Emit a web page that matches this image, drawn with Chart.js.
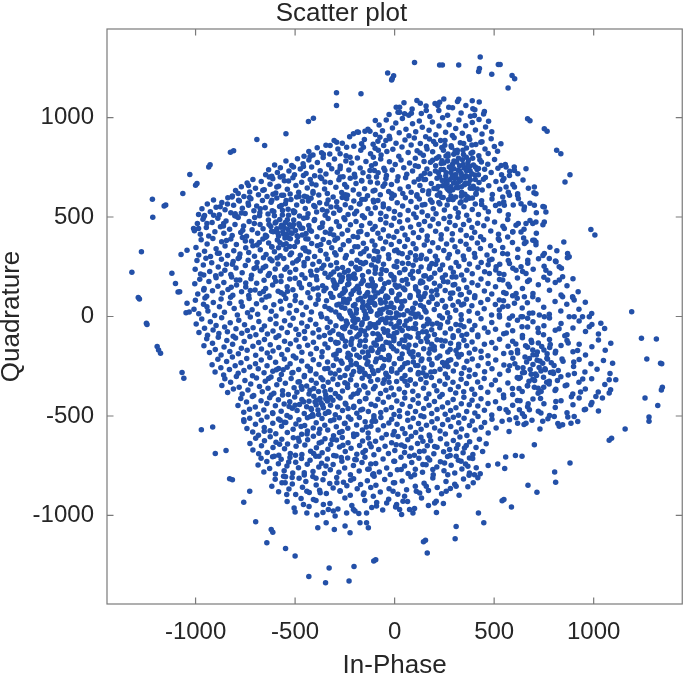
<!DOCTYPE html>
<html>
<head>
<meta charset="utf-8">
<title>Scatter plot</title>
<script src="https://cdn.jsdelivr.net/npm/chart.js@4.4.1/dist/chart.umd.min.js"></script>
<style>
  html, body { margin: 0; padding: 0; background: #fff; }
  #wrap { width: 685px; height: 676px; }
</style>
</head>
<body>
<div id="wrap"><canvas id="scatter-chart"></canvas></div>
<script>
// axis ticks
const xTicks = [-1000, -500, 0, 500, 1000];
const yTicks = [-1000, -500, 0, 500, 1000];

// sparse points on the rim of the cloud
const outerPoints = [
  [-35,1224],[-15,1189],[-292,1124],[-292,1060],[-169,1119],[-433,980],[-408,997],[-97,985],[-546,918],[-692,890],
  [-653,860],[-825,826],[-809,833],[-934,751],[-927,763],[-1029,714],[-993,668],[-1000,660],[-1064,618],[-1217,589],
  [-1158,555],[-1150,560],[-1215,499],[-1272,325],[-1320,222],[-1288,96],[-1282,88],[-1119,218],[-1088,123],[-1080,125],
  [-1048,19],[-1032,22],[-1073,312],[-1043,333],[-959,208],[-959,133],[-1043,66],[-943,49],[-1101,166],
  [-1247,-34],[-1244,-40],[-1193,-151],[-1176,-185],[-1186,-168],[-1068,-282],[-1059,-310],[-971,-569],[-914,-555],[-901,-689],
  [-847,-673],[-829,-815],[-815,-820],[-758,-519],[-728,-878],[-758,-933],[-698,-1032],[-620,-1070],[-612,-1084],[-642,-1137],
  [-548,-1166],[-500,-1204],[-431,-1307],[-347,-1338],[-329,-1264],[-229,-1329],[-204,-1256],[-105,-1229],[-95,-1222],
  [430,1304],[100,1276],[226,1264],[240,1264],[322,1264],[426,1246],[422,1232],[521,1266],[530,1266],[488,1217],
  [590,1211],[603,1195],[570,1149],[-12,1196],[-5,1210],[668,994],[680,984],[752,944],[766,931],[814,835],
  [835,818],[881,713],[856,676],[986,437],[1006,409],[1191,24],
  [1240,-109],[1315,-113],[1267,-213],[1336,-235],[1342,-238],[1258,-410],[1345,-355],[1340,-370],[1322,-447],[1278,-505],
  [1278,-527],[1158,-566],[1078,-622],[1090,-612],[881,-736],[804,-781],[809,-833],[670,-848],[715,-883],[702,-644],
  [549,-920],[540,-926],[587,-957],[421,-987],[448,-1037],[309,-1055],[304,-1117],[155,-1125],[145,-1132],[164,-1189],
  [607,-698],[640,-703],[558,-706],[518,-741],[553,-764],[470,-749]
];

// points traced one by one along the edges of the lobes
const tracedPoints = [
  [25,1052],[17,1027],[50,1019],[84,1022],[129,1072],[159,1035],[217,1060],[226,1077],[272,1052],[322,1092],
  [390,1084],[393,1044],[451,1030],[401,1010],
  [660,743],[602,734],[560,751],[535,759],[577,709],[543,684],[602,651],[560,651],[618,617],[577,609],
  [543,601],[526,567],[551,559],[635,567],[652,550],[702,651],[710,617],[702,559],[752,550],[760,525],
  [752,475],[660,467],[694,467],[710,475],[610,459],[635,425],[593,425],[551,442],[568,400],[526,383],
  [702,383],[660,375],
  [752,317],[777,291],[811,275],[827,250],[869,317],[877,300],[844,200],[827,183],[844,99],[894,99],
  [902,83],[944,-1],[902,-1],[978,-1],[760,233],[769,183],[694,383],[710,375],[652,367],[669,283],
  [660,216],[677,183],[652,99],[694,99],[610,116],[602,66],[543,49],[677,16],[643,-1],[560,116],
  [526,83],[543,183],[577,150],[526,216],[476,216],[510,250],[476,283],[543,317],[577,266],[610,233],[635,250],
  [526,8],[577,-9],[635,-1],[668,-9],[727,8],[752,-1],[877,-1],[978,-51],[1036,-34],[1086,-134],
  [1095,-235],[1111,-318],[1078,-318],[1078,-385],[1044,-410],[1011,-402],[986,-444],[953,-469],[902,-502],[886,-536],
  [844,-544],[827,-552],[802,-502],[744,-527],[735,-485],[677,-469],[652,-502],[660,-536],[627,-469],[618,-536],
  [577,-519],[560,-469],
  [-207,918],[-182,926],[-149,931],[-124,931],[-74,901],[-44,885],[-166,868],[-157,851],[-241,851],[-324,860],
  [-291,876],[-425,804],[-358,815],[-274,818],[-224,801],[-107,801],[-82,835],[-49,734],[-458,754],[-508,751],
  [-575,701],[-630,701],[-533,681],[-458,709],[-416,667],[-374,701],[-350,676],[-274,743],[-274,701],[-241,651],
  [-199,701],[-166,684],[-124,734],[-91,701],[-49,667],[-734,659],[-662,634],[-592,651],[-558,609],[-817,601],
  [-784,584],[-876,551],[-959,500],[-909,509],[-1010,442],[-985,442],[-943,467],[-859,467],[-801,517],[-734,559],
  [-675,542],[-617,584],[-492,601],[-441,601],[-400,551],[-341,567],[-291,551],[-241,592],[-174,567],[-107,584],
  [-57,551],[-15,617],
  [-500,-982],[-441,-987],[-391,-998],[-386,-1062],[-344,-1037],[-333,-970],[-308,-978],[-303,-1070],[-299,-1003],[-249,-1053],
  [-224,-1087],[-207,-970],[-174,-1037],[-141,-1037],[-132,-1062],[-141,-987],[-241,-987],[-199,-978],[-358,-945],[-408,-920],
  [-458,-945],[-441,-878],[-374,-886],[-274,-878],[-157,-895],[-107,-903],[-91,-953],[-40,-937],[10,-945],[-558,-803],
  [-550,-836],[-542,-895],
  [-8,-594],[8,-644],[0,-728],[33,-769],[75,-703],[100,-795],[142,-744],[167,-711],[201,-653],[192,-769],
  [251,-736],[276,-669],[267,-795],[309,-703],[334,-728],[376,-711],[368,-753],[376,-786],[401,-795],[418,-811],
  [309,-853],[259,-878],[159,-853],[109,-878],[50,-903],[42,-928],[25,-970],[75,-970],[92,-987],[201,-937],
  [209,-928],[0,-836],[-8,-878],[8,-953],[351,-661],[318,-644],[142,-627],[176,-602],[84,-602],[50,-653],[125,-678]
];

// upper left lobe
const upperLeftPoints = [
  [-1008,37],[-1001,82],[-984,14],[-960,61],[-953,93],[-938,28],[-911,70],[-904,5],[-880,49],[-872,88],
  [-855,21],[-829,66],[-824,97],[-806,40],[-790,8],[-771,73],[-765,52],[-739,19],[-731,91],[-716,34],
  [-694,64],[-688,11],[-667,83],[-650,45],[-646,98],[-619,26],[-607,59],[-596,3],[-574,77],[-568,38],
  [-547,90],[-530,17],[-526,55],[-500,81],[-493,30],[-470,69],[-462,9],[-444,47],[-425,94],[-418,23],
  [-396,62],[-384,86],[-371,12],[-350,50],[-342,79],[-319,33],[-310,97],[-290,58],[-279,6],[-258,71],
  [-250,42],[-228,88],[-221,16],[-199,60],[-192,35],[-171,92],[-160,51],[-146,7],[-128,76],[-121,27],
  [-102,65],[-296,22],[-266,47],[-238,69],[-213,4],[-183,84],[-153,29],[-137,55],[-111,90],
  [-1004,164],[-989,113],[-979,187],[-957,141],[-944,102],[-933,176],[-915,129],[-897,195],[-888,152],[-866,118],
  [-858,171],[-837,136],[-819,199],[-813,107],[-794,158],[-778,183],[-769,124],[-748,148],[-733,106],[-722,190],
  [-701,133],[-693,167],[-677,115],[-656,182],[-648,141],[-631,103],[-613,158],[-603,196],[-585,127],[-571,176],
  [-556,110],[-540,149],[-527,188],[-511,134],[-498,104],[-479,170],[-468,145],[-450,192],[-436,119],[-427,161],
  [-409,138],[-391,185],[-383,108],[-362,154],[-355,129],[-333,197],[-322,116],[-304,172],[-297,142],[-275,105],
  [-266,184],[-248,131],[-236,160],[-218,113],[-206,193],[-187,147],[-178,121],[-158,178],[-149,102],[-129,155],
  [-117,189],[-103,127],[-290,158],[-256,121],[-230,187],[-195,139],[-168,166],[-140,112],[-112,173],
  [-1002,238],[-993,281],[-975,214],[-961,259],[-948,293],[-929,226],[-919,270],[-899,205],[-886,249],[-870,288],
  [-853,232],[-845,263],[-823,211],[-811,276],[-797,244],[-780,298],[-766,220],[-750,256],[-736,283],[-719,207],
  [-706,241],[-691,272],[-675,229],[-659,295],[-648,253],[-629,216],[-616,280],[-600,239],[-586,264],[-570,203],
  [-557,291],[-542,247],[-526,222],[-512,269],[-497,236],[-484,286],[-466,210],[-455,255],[-437,292],[-422,228],
  [-411,262],[-394,201],[-379,276],[-366,243],[-350,218],[-337,289],[-321,257],[-306,224],[-292,270],[-276,208],
  [-262,246],[-248,294],[-233,231],[-219,265],[-203,213],[-189,283],[-175,240],[-161,206],[-146,271],[-131,225],
  [-116,259],[-104,290],
  [-998,347],[-984,309],[-972,386],[-955,328],[-942,365],[-925,301],[-913,392],[-897,340],[-881,318],[-869,376],
  [-852,354],[-839,307],[-823,389],[-808,331],[-795,362],[-777,314],[-765,397],[-748,345],[-733,322],[-719,378],
  [-704,303],[-691,359],[-675,335],[-662,390],[-646,312],[-633,370],[-617,349],[-604,326],[-589,384],[-575,305],
  [-560,361],[-546,338],[-532,395],[-518,319],[-503,352],[-489,377],[-474,308],[-460,343],[-446,391],[-431,324],
  [-417,367],[-402,301],[-388,355],[-373,332],[-359,387],[-345,313],[-330,372],[-316,346],[-301,320],[-287,393],
  [-272,337],[-258,360],[-243,306],[-229,381],[-214,327],[-200,351],[-186,398],[-171,316],[-157,368],[-142,341],
  [-128,304],[-113,379],[-101,330],
  [-1006,431],[-991,468],[-976,414],[-963,489],[-946,447],[-934,405],[-917,472],[-903,426],[-888,494],[-875,451],
  [-858,418],[-847,480],[-829,439],[-816,407],[-802,463],[-786,497],[-773,422],[-759,455],[-744,403],[-731,477],
  [-716,436],[-703,498],[-688,419],[-676,462],[-661,441],[-649,408],[-634,485],[-622,452],[-610,426],[-600,470],
  [-592,441],[-583,404],[-577,488],[-568,459],[-562,425],[-555,447],[-549,472],[-541,412],[-536,437],[-528,461],
  [-521,420],[-514,450],[-507,485],[-498,432],[-490,406],[-481,466],[-470,443],[-457,494],[-445,417],[-431,458],
  [-418,429],[-404,482],[-390,401],[-376,446],[-362,470],[-348,423],[-334,492],[-320,438],[-306,409],[-292,476],
  [-278,452],[-264,415],[-250,487],[-236,433],[-222,461],[-208,402],[-194,478],[-180,425],[-166,456],[-152,496],
  [-138,412],[-124,469],[-110,438],
  [-985,513],[-968,541],[-955,508],[-941,566],[-926,527],[-910,585],[-897,549],[-881,512],[-868,573],[-852,536],
  [-838,597],[-823,521],[-809,559],[-794,504],[-780,581],[-765,544],[-751,518],[-736,570],[-722,592],[-707,531],
  [-693,555],[-679,507],[-664,583],[-650,546],[-636,515],[-621,574],[-607,528],[-592,596],[-578,553],[-564,510],
  [-549,567],[-535,539],[-521,588],[-506,522],[-492,561],[-478,505],[-463,579],[-449,543],[-435,516],[-420,594],
  [-406,558],[-392,525],[-377,572],[-363,537],[-349,509],[-334,586],[-320,550],[-306,519],[-291,577],[-277,534],
  [-263,598],[-248,562],[-234,513],[-220,546],[-205,580],[-191,529],[-177,566],[-162,506],[-148,589],[-134,541],
  [-119,518],[-105,575],
  [-815,606],[-799,633],[-786,618],[-770,652],[-757,603],[-741,671],[-728,626],[-712,689],[-699,644],[-684,612],
  [-670,678],[-655,637],[-641,603],[-626,665],[-612,692],[-597,621],[-583,655],[-568,609],[-554,682],[-539,640],
  [-525,616],[-511,697],[-496,659],[-482,624],[-467,675],[-453,605],[-439,646],[-424,688],[-410,628],[-395,661],
  [-381,611],[-367,694],[-352,641],[-338,618],[-323,673],[-309,601],[-295,650],[-280,687],[-266,623],[-251,664],
  [-237,609],[-223,695],[-208,636],[-194,668],[-179,614],[-165,681],[-151,642],[-136,607],[-122,676],[-108,631],
  [-648,712],[-633,738],[-617,705],[-603,761],[-589,724],[-574,748],[-560,706],[-546,781],[-531,731],[-517,759],
  [-503,713],[-488,793],[-474,741],[-460,768],[-445,719],[-431,786],[-417,752],[-402,708],[-388,774],[-374,733],
  [-359,799],[-345,716],[-331,763],[-316,742],[-302,791],[-288,725],[-273,756],[-259,703],[-245,782],[-230,736],
  [-216,771],[-202,715],[-187,797],[-173,747],[-159,722],[-144,779],[-130,703],[-116,758],[-102,734],
  [-455,806],[-431,829],[-410,812],[-389,848],[-367,823],[-345,861],[-326,817],[-304,884],[-285,842],[-263,871],
  [-244,808],[-226,903],[-205,856],[-188,927],[-170,835],[-152,889],[-134,941],[-121,818],[-108,866]
];

// upper right lobe
const upperRightPoints = [
  [-28,1015],[8,1052],[25,1027],[47,1074],[71,1011],[88,1043],[112,1086],[134,1020],[158,1058],[177,1005],
  [203,1071],[222,1036],[247,1093],[266,1012],[291,1049],[316,1080],[334,1023],[358,1061],[381,1007],[403,1039],
  [425,1078],[447,1018],
  [-96,915],[-78,962],[-61,934],[-42,987],[-27,906],[-11,948],[6,972],[23,923],[39,995],[57,941],
  [72,909],[90,969],[106,928],[124,983],[139,951],[156,903],[173,936],[190,977],[207,914],[223,958],
  [241,999],[256,926],[274,964],[290,910],[307,945],[323,988],[340,921],[357,959],[373,904],[390,975],
  [406,937],[424,990],[439,917],[457,953],[472,981],[488,928],
  [-98,846],[-84,881],[-68,812],[-55,859],[-39,829],[-24,893],[-9,840],[7,871],[21,806],[37,852],
  [52,887],[68,824],[83,862],[99,897],[113,833],[129,870],[144,811],[160,855],[175,892],[191,828],
  [206,866],[222,803],[237,849],[253,884],[268,817],[284,858],[299,899],[315,836],[330,873],[346,814],
  [361,847],[377,889],[392,825],[408,864],[423,808],[439,878],[454,842],[470,819],[485,893],[501,855],
  [517,830],[534,868],
  [-97,768],[-83,722],[-70,791],[-54,745],[-41,709],[-26,778],[-12,736],[3,764],[17,702],[32,787],
  [46,748],[61,715],[75,772],[90,731],[104,796],[119,754],[133,706],[148,779],[162,741],[177,717],
  [191,785],[206,758],[220,723],[234,769],[246,739],[257,706],[266,782],[275,752],[283,724],[291,765],
  [298,742],[305,711],[312,776],[319,735],[326,758],[334,719],[341,788],[349,747],[358,707],[368,771],
  [379,733],[392,796],[406,751],[421,713],[436,777],[452,740],[468,765],[485,724],[502,789],[519,745],
  [537,712],[556,764],[578,730],[601,752],[619,718],
  [-99,634],[-86,671],[-72,612],[-58,655],[-44,693],[-30,628],[-16,664],[-2,609],[13,682],[27,641],
  [41,618],[55,697],[69,652],[83,625],[98,676],[112,604],[127,659],[141,633],[155,689],[170,616],
  [184,668],[198,643],[213,695],[227,621],[241,657],[255,683],[269,637],[283,606],[296,671],[310,648],
  [323,691],[337,624],[351,662],[365,602],[380,686],[394,645],[409,619],[424,674],[440,636],[456,698],
  [473,657],[491,613],[509,679],[528,640],[549,694],[571,624],[594,663],[618,608],[645,686],[672,645],[700,622],
  [-97,547],[-84,583],[-70,519],[-57,566],[-43,502],[-29,541],[-15,594],[-1,528],[13,572],[27,511],
  [40,556],[54,597],[68,533],[82,578],[96,515],[110,549],[124,591],[138,525],[152,563],[166,507],
  [180,586],[194,541],[208,517],[222,573],[236,599],[250,535],[264,561],[278,503],[292,588],[306,544],
  [320,521],[334,577],[348,552],[362,509],[376,594],[390,538],[405,566],[421,513],[437,582],[454,547],
  [471,526],[489,591],[507,558],[527,532],[548,575],[571,511],[596,560],[622,592],[650,537],[680,569],
  [712,521],[745,553],
  [-98,452],[-84,418],[-71,487],[-57,436],[-44,470],[-30,405],[-16,459],[-3,494],[11,427],[25,476],
  [38,443],[52,409],[66,485],[80,450],[94,421],[108,497],[122,462],[136,433],[150,478],[164,404],
  [178,455],[192,489],[206,428],[220,466],[234,411],[248,492],[262,440],[276,474],[290,416],[304,458],
  [318,499],[332,435],[346,463],[360,407],[374,484],[388,447],[402,423],[417,469],[432,401],[448,456],
  [465,490],[483,430],[502,475],[522,414],[544,453],[568,488],[594,426],[621,467],[650,438],[680,482],
  [712,419],[745,461],
  [-99,358],[-86,326],[-72,393],[-58,341],[-45,374],[-31,310],[-17,362],[-4,398],[10,334],[24,377],
  [38,315],[51,352],[65,387],[79,321],[93,366],[107,340],[121,397],[135,308],[149,359],[163,383],
  [177,328],[191,371],[205,303],[219,346],[233,389],[247,332],[261,364],[275,311],[289,385],[303,350],
  [317,325],[331,378],[345,304],[359,363],[373,338],[387,394],[401,317],[416,369],[431,342],[447,386],
  [464,309],[482,355],[501,330],[521,391],[543,347],[567,314],[592,372],[619,338],[648,395],[678,322],
  [710,361],[745,306],[780,348],[815,330],[850,375]
];

// centre, ring and right lobe
const centrePoints = [
  [-96,247],[-83,279],[-69,214],[-56,262],[-42,231],[-29,291],[-15,205],[-2,253],[12,276],[25,220],
  [39,268],[52,238],[66,297],[79,211],[93,257],[106,284],[120,226],[133,249],[147,203],[160,289],
  [174,241],[187,266],[201,217],[214,283],[228,235],[241,259],[255,208],[268,294],[282,244],[295,222],
  [309,271],[322,253],[336,209],[349,286],[363,232],[376,264],[390,215],[404,298],[419,247],[435,272],
  [452,225],[470,260],[489,288],[508,234],[528,263],[549,211],[571,281],[594,243],[618,296],[643,226],
  [669,268],[696,237],[723,290],[751,252],[779,218],[808,279],[838,243],[868,295],
  [-97,155],[-84,118],[-70,187],[-57,141],[-43,103],[-30,172],[-16,129],[-3,196],[11,147],[24,112],
  [38,181],[51,135],[65,163],[78,106],[92,192],[105,150],[119,124],[132,178],[146,101],[159,144],
  [173,188],[186,127],[200,167],[213,109],[227,153],[240,195],[254,131],[267,174],[281,117],[294,158],
  [308,199],[321,138],[335,111],[348,184],[362,146],[375,122],[389,170],[403,104],[418,157],[434,189],
  [451,128],[469,166],[488,113],[507,149],[527,186],[548,120],[570,162],[593,104],[617,193],[642,141],
  [668,176],[695,115],[722,159],[750,197],[778,132],[807,171],[836,108],[866,154],[896,190],[922,125],
  [-99,58],[-86,14],[-72,83],[-58,37],[-45,96],[-31,21],[-18,67],[-4,44],[10,89],[23,7],
  [37,52],[50,78],[64,29],[77,95],[91,41],[104,66],[118,12],[131,85],[145,48],[158,23],
  [172,72],[185,99],[199,35],[212,61],[226,4],[239,80],[253,46],[266,19],[280,91],[293,57],
  [307,31],[320,74],[334,9],[347,63],[361,87],[374,26],[388,54],[402,94],[417,16],[433,70],
  [450,39],[468,86],[487,8],[506,60],[526,33],[547,79],[569,51],[592,2],[616,92],[641,43],
  [667,69],[694,18],[721,84],[749,47],[777,11],[806,75],[835,28],[865,62],[895,95],[926,36],
  [958,71],[990,15],
  [-98,-41],[-85,-88],[-71,-17],[-57,-63],[-44,-32],[-30,-95],[-17,-9],[-3,-54],[11,-81],[24,-25],
  [38,-70],[51,-44],[65,-98],[78,-13],[92,-59],[105,-37],[119,-86],[132,-4],[146,-49],[159,-77],
  [173,-21],[186,-66],[200,-91],[213,-34],[227,-56],[240,-7],[254,-83],[267,-28],[281,-61],[294,-97],
  [308,-40],[321,-72],[335,-15],[348,-51],[362,-89],[375,-23],[389,-67],[403,-45],[418,-93],[434,-11],
  [451,-58],[469,-79],[488,-30],[507,-64],[527,-2],[548,-87],[570,-43],[593,-71],[617,-19],[642,-96],
  [668,-53],[695,-27],[722,-81],[750,-46],[778,-8],[807,-69],[836,-35],[866,-92],[896,-58],[927,-22],
  [959,-75],[991,-40],[1024,-88],[1055,-60],
  [-97,-143],[-84,-181],[-70,-112],[-57,-164],[-43,-129],[-30,-196],[-16,-151],[-3,-108],[11,-173],[24,-137],
  [38,-189],[51,-121],[65,-158],[78,-104],[92,-177],[105,-145],[119,-192],[132,-126],[146,-162],[159,-110],
  [173,-185],[186,-139],[200,-168],[213,-117],[227,-199],[240,-148],[254,-123],[267,-179],[281,-134],[294,-106],
  [308,-171],[321,-155],[335,-191],[348,-119],[362,-147],[375,-183],[389,-128],[403,-164],[418,-102],[434,-175],
  [451,-140],[469,-197],[488,-131],[507,-160],[527,-114],[548,-186],[570,-149],[593,-125],[617,-170],[642,-107],
  [668,-155],[695,-192],[722,-133],[750,-168],[778,-115],[807,-183],[836,-146],[866,-121],[896,-177],[927,-139],
  [959,-194],[991,-152],[1024,-118],[1058,-170],
  [-96,-228],[-83,-271],[-69,-206],[-56,-249],[-42,-293],[-29,-217],[-15,-262],[-2,-238],[12,-284],[25,-211],
  [39,-255],[52,-297],[66,-233],[79,-268],[93,-204],[106,-246],[120,-281],[133,-222],[147,-259],[160,-295],
  [174,-215],[187,-242],[201,-276],[214,-209],[228,-265],[241,-231],[255,-289],[268,-252],[282,-218],[295,-274],
  [309,-240],[322,-203],[336,-286],[349,-257],[363,-225],[376,-269],[390,-213],[404,-292],[419,-247],[435,-207],
  [452,-278],[470,-236],[489,-263],[508,-219],[528,-290],[549,-244],[571,-272],[594,-210],[618,-258],[643,-283],
  [663,-229],[681,-266],[695,-241],[707,-289],[716,-220],[726,-256],[735,-274],[744,-235],[755,-262],[768,-214],
  [783,-281],[801,-246],[822,-271],[846,-225],[872,-294],[899,-251],[927,-216],[956,-279],[986,-238],[1017,-265],
  [1049,-221],[1082,-287],
  [-98,-352],[-85,-318],[-71,-387],[-58,-336],[-44,-371],[-31,-304],[-17,-359],[-4,-393],[10,-327],[23,-364],
  [37,-311],[50,-382],[64,-345],[77,-321],[91,-376],[104,-339],[118,-398],[131,-315],[145,-361],[158,-333],
  [172,-389],[185,-307],[199,-348],[212,-373],[226,-324],[239,-392],[253,-341],[266,-308],[280,-367],[293,-330],
  [307,-385],[320,-353],[334,-316],[347,-378],[361,-337],[374,-302],[388,-366],[402,-391],[417,-329],[433,-357],
  [450,-312],[468,-381],[487,-343],[506,-320],[526,-369],[547,-395],[569,-334],[592,-362],[616,-306],[641,-377],
  [667,-348],[694,-315],[721,-386],[749,-355],[777,-325],[806,-372],[835,-303],[865,-344],[895,-389],[926,-331],
  [958,-365],[990,-313],[1023,-380],[1056,-342],[1085,-368],
  [-97,-448],[-84,-416],[-70,-483],[-57,-431],[-43,-469],[-30,-404],[-16,-457],[-3,-492],[11,-425],[24,-474],
  [38,-441],[51,-409],[65,-486],[78,-452],[92,-419],[105,-478],[119,-436],[132,-499],[146,-463],[159,-412],
  [173,-446],[186,-488],[200,-427],[213,-468],[227,-403],[240,-455],[254,-491],[267,-433],[281,-472],[294,-417],
  [308,-459],[321,-496],[335,-438],[348,-406],[362,-477],[375,-444],[389,-421],[403,-485],[418,-450],[434,-413],
  [451,-471],[469,-437],[488,-495],[507,-428],[527,-462],[548,-408],[570,-481],[593,-446],[617,-422],[642,-489],
  [668,-453],[695,-415],[722,-476],[750,-439],[778,-497],[807,-458],[836,-424],[866,-484],[896,-443],[927,-410],
  [959,-466],[991,-432],[1024,-475],
  [-96,-527],[-83,-571],[-69,-508],[-56,-549],[-42,-593],[-29,-535],[-15,-516],[-2,-578],[12,-541],[25,-503],
  [39,-564],[52,-588],[66,-522],[79,-556],[93,-511],[106,-583],[120,-538],[133,-567],[147,-504],[160,-546],
  [174,-596],[187,-529],[201,-561],[214,-514],[228,-575],[241,-543],[255,-590],[268,-519],[282,-553],[295,-507],
  [309,-580],[322,-534],[336,-566],[349,-512],[363,-598],[376,-548],[390,-525],[404,-570],[419,-502],[435,-557],
  [452,-533],[470,-586],[489,-517],[510,-560],[540,-526],[575,-578],[610,-509],[650,-543],[690,-521],[730,-566],
  [770,-514],[820,-538],[870,-505],[920,-528]
];

// extra density in the core round the origin, and the ring about it
const centreCorePoints = [
  [-288,241],[-271,176],[-256,88],[-243,-23],[-231,203],[-219,-141],[-207,54],[-194,-236],[-182,141],[-170,-68],
  [-158,265],[-146,12],[-134,-179],[-122,97],[-110,-42],[-98,218],[-86,-117],[-74,33],[-62,-259],[-50,164],
  [-38,-7],[-26,-204],[-14,121],[-2,-86],[10,249],[22,-31],[34,74],[46,-152],[58,186],[70,-60],
  [82,17],[94,-229],[106,138],[118,-104],[130,56],[142,-283],[154,205],[166,-14],[178,-163],[190,90],
  [-294,-188],[-280,62],[-266,-97],[-252,139],[-239,-262],[-225,28],[-212,-51],[-198,191],[-185,-15],[-172,-124],
  [-160,73],[-147,-207],[-135,157],[-123,-36],[-111,-271],[-99,101],[-87,6],[-75,-165],[-63,236],[-51,-79],
  [-39,47],[-27,-133],[-15,-275],[-3,183],[9,-48],[21,108],[33,-211],[45,9],[57,-98],[69,267],
  [81,-189],[93,40],[105,-3],[117,-246],[129,169],[141,-77],[153,115],[165,-127],[177,254],[189,-39],
  [-276,-2],[-247,-125],[-218,112],[-190,-195],[-162,44],[-133,-58],[-104,144],[-76,-98],[-47,71],[-19,-37],
  [9,18],[38,-118],[-261,-55],[-233,163],[-204,-8],[-176,-88],[-148,-152],[-119,28],[-91,-213],[-62,-12],
  [-34,96],[-6,-162],[23,153],[51,-237],
  [-150,-10],[-120,70],[-95,-55],[-70,15],[-45,-25],[-20,50],[5,-5],[30,40],[-135,120],[-60,-150],
  [-10,-100],[-200,-30],
  [-284,-132],[-262,197],[-245,-47],[-223,-195],[-208,129],[-193,18],[-177,-258],[-159,182],[-144,-94],[-128,43],
  [-113,-171],[-97,236],[-82,-32],[-66,127],[-51,-216],[-35,-71],[-19,211],[-4,-122],[12,81],[28,-266],
  [43,143],[59,-23],[74,-178],[90,228],[105,-62],[121,104],[137,-213],[152,31],[168,-98],[183,196],
  [199,-152],[214,62],[230,-41],[246,176],[261,-233],[277,-5],[292,118],[-270,-224],[-239,83],[-214,-112],
  [-186,236],[-163,-31],[-139,-240],[-116,157],[-92,-143],[-69,68],[-44,-285],[-21,19],[3,158],[26,-58],
  [49,235],[72,-143],[95,14],[118,-289],[141,172],[164,-36],[187,-238],[210,133],[233,-119],[256,52],[279,-166],
  [-330,40],[-325,-82],[-304,152],[-283,-171],[-252,223],[-218,-243],[-171,271],[-128,-302],[-79,299],[-28,-331],
  [21,321],[79,-318],[131,291],[182,-279],[229,238],[271,-221],[302,161],[322,-139],[336,58],[331,-43],
  [-340,-10],[-316,98],[-296,-130],[-268,190],[-236,-205],[-195,248],[-150,-285],[-104,285],[-52,-318],[0,330],
  [52,-326],[105,305],[157,-300],[206,262],[251,-247],[289,199],[315,-190],[330,109],[338,-95]
];

// lower left lobe
const lowerLeftPoints = [
  [-997,-38],[-983,-81],[-969,-12],[-955,-59],[-940,-94],[-926,-27],[-912,-68],[-897,-45],[-883,-86],[-869,-6],
  [-854,-53],[-840,-77],[-826,-31],[-811,-99],[-797,-62],[-783,-19],[-768,-84],[-754,-41],[-740,-70],[-725,-3],
  [-711,-56],[-697,-92],[-682,-25],[-668,-66],[-654,-48],[-639,-88],[-625,-14],[-611,-73],[-596,-36],[-582,-97],
  [-568,-58],[-553,-21],[-539,-80],[-525,-44],[-510,-9],[-496,-64],[-482,-90],[-467,-33],[-453,-75],[-439,-50],
  [-424,-16],[-410,-83],[-396,-39],[-381,-67],[-367,-1],[-353,-95],[-338,-55],[-324,-28],[-310,-71],[-295,-47],
  [-281,-89],[-267,-11],[-252,-62],[-238,-35],[-224,-79],[-209,-20],[-195,-58],[-181,-93],[-166,-42],[-152,-74],
  [-138,-8],[-123,-51],[-109,-85],
  [-958,-147],[-944,-112],[-930,-181],[-915,-135],[-901,-166],[-886,-104],[-872,-193],[-857,-153],[-843,-121],[-828,-176],
  [-814,-140],[-799,-108],[-785,-187],[-770,-159],[-756,-126],[-741,-170],[-727,-101],[-712,-149],[-698,-195],[-683,-131],
  [-669,-163],[-654,-115],[-640,-184],[-625,-142],[-611,-173],[-596,-106],[-582,-156],[-567,-191],[-553,-124],[-538,-167],
  [-524,-137],[-509,-198],[-495,-118],[-480,-152],[-466,-180],[-451,-110],[-437,-144],[-422,-189],[-408,-129],[-393,-161],
  [-379,-103],[-364,-177],[-350,-138],[-335,-157],[-321,-116],[-306,-193],[-292,-134],[-277,-171],[-263,-109],[-248,-150],
  [-234,-185],[-219,-127],[-205,-164],[-190,-102],[-176,-145],[-161,-179],[-147,-120],[-132,-197],[-118,-158],[-104,-133],
  [-917,-243],[-902,-279],[-888,-215],[-873,-258],[-859,-294],[-844,-226],[-830,-266],[-815,-204],[-801,-247],[-786,-285],
  [-772,-232],[-757,-271],[-743,-211],[-728,-254],[-714,-298],[-699,-237],[-685,-263],[-670,-219],[-656,-283],[-641,-248],
  [-627,-206],[-612,-275],[-598,-230],[-583,-261],[-569,-292],[-554,-214],[-540,-255],[-525,-238],[-511,-281],[-496,-208],
  [-482,-267],[-467,-224],[-453,-296],[-438,-250],[-424,-273],[-409,-217],[-395,-289],[-380,-241],[-366,-202],[-351,-262],
  [-337,-229],[-322,-284],[-308,-246],[-293,-213],[-279,-270],[-264,-235],[-250,-297],[-235,-258],[-221,-221],[-206,-277],
  [-192,-240],[-177,-205],[-163,-265],[-148,-291],[-134,-227],[-119,-253],[-105,-287],
  [-868,-347],[-853,-313],[-839,-382],[-824,-330],[-810,-364],[-795,-301],[-781,-355],[-766,-389],[-752,-322],[-737,-370],
  [-723,-339],[-708,-397],[-694,-309],[-679,-352],[-665,-378],[-650,-325],[-636,-361],[-621,-304],[-607,-386],[-592,-343],
  [-578,-317],[-563,-373],[-549,-335],[-534,-392],[-520,-311],[-505,-358],[-491,-381],[-478,-328],[-466,-366],[-454,-303],
  [-442,-349],[-430,-390],[-418,-320],[-406,-362],[-394,-336],[-382,-377],[-370,-308],[-358,-352],[-346,-395],[-334,-331],
  [-322,-368],[-310,-314],[-298,-387],[-286,-342],[-274,-306],[-262,-375],[-250,-333],[-236,-357],[-221,-318],[-207,-391],
  [-192,-346],[-178,-371],[-163,-310],[-149,-354],[-134,-384],[-120,-326],[-106,-363],
  [-787,-447],[-773,-412],[-758,-481],[-744,-430],[-729,-466],[-715,-402],[-700,-455],[-686,-491],[-671,-424],[-657,-470],
  [-642,-437],[-628,-408],[-613,-484],[-599,-449],[-584,-419],[-570,-476],[-555,-440],[-541,-497],[-527,-428],[-514,-461],
  [-502,-405],[-490,-473],[-478,-442],[-466,-417],[-454,-488],[-442,-453],[-430,-426],[-418,-468],[-406,-401],[-394,-445],
  [-382,-492],[-370,-433],[-358,-459],[-346,-414],[-334,-479],[-322,-446],[-310,-421],[-298,-494],[-286,-455],[-274,-410],
  [-262,-472],[-248,-436],[-234,-463],[-219,-404],[-205,-451],[-190,-486],[-176,-427],[-161,-466],[-147,-413],[-132,-478],
  [-118,-441],[-104,-499],
  [-757,-528],[-742,-563],[-728,-511],[-713,-580],[-699,-541],[-684,-597],[-670,-522],[-655,-558],[-641,-505],[-626,-574],
  [-612,-536],[-597,-589],[-583,-515],[-568,-552],[-554,-531],[-539,-583],[-525,-506],[-510,-567],[-496,-540],[-481,-519],
  [-467,-592],[-452,-548],[-438,-575],[-423,-503],[-409,-560],[-394,-534],[-380,-587],[-365,-513],[-351,-546],[-336,-571],
  [-322,-524],[-307,-599],[-293,-554],[-278,-509],[-264,-578],[-249,-537],[-235,-562],[-220,-517],[-206,-590],[-191,-545],
  [-177,-508],[-162,-571],[-148,-529],[-133,-586],[-119,-551],[-104,-512],
  [-727,-638],[-712,-671],[-698,-612],[-683,-690],[-669,-649],[-654,-624],[-640,-683],[-625,-605],[-611,-659],[-596,-632],
  [-582,-697],[-567,-617],[-553,-665],[-538,-641],[-524,-688],[-509,-609],[-495,-652],[-480,-627],[-466,-694],[-451,-646],
  [-437,-619],[-422,-677],[-408,-602],[-393,-660],[-379,-636],[-364,-685],[-350,-614],[-335,-667],[-321,-643],[-306,-699],
  [-292,-621],[-277,-656],[-263,-608],[-248,-679],[-234,-634],[-219,-662],[-205,-603],[-190,-692],[-176,-648],[-161,-626],
  [-147,-674],[-132,-611],[-118,-655],[-104,-695],
  [-686,-747],[-671,-712],[-657,-781],[-642,-729],[-628,-764],[-613,-705],[-599,-792],[-584,-740],[-570,-718],[-555,-775],
  [-541,-751],[-526,-709],[-512,-786],[-497,-733],[-483,-760],[-468,-714],[-454,-797],[-439,-742],[-425,-723],[-410,-779],
  [-396,-703],[-381,-757],[-367,-738],[-352,-789],[-338,-716],[-323,-770],[-309,-744],[-294,-701],[-280,-783],[-265,-727],
  [-251,-762],[-236,-711],[-222,-795],[-207,-749],[-193,-720],[-178,-776],[-164,-734],[-149,-707],[-135,-768],[-120,-741],
  [-106,-790],
  [-617,-853],[-600,-818],[-583,-881],[-566,-836],[-548,-806],[-531,-867],[-514,-842],[-497,-895],[-480,-813],[-463,-858],
  [-446,-829],[-429,-884],[-411,-804],[-394,-847],[-377,-873],[-360,-821],[-343,-890],[-326,-839],[-309,-862],[-291,-809],
  [-274,-876],[-257,-833],[-240,-851],[-223,-898],[-206,-815],[-188,-866],[-171,-844],[-154,-887],[-137,-826],[-120,-859],
  [-103,-803],
  [-540,-930],[-505,-962],[-470,-915],[-430,-955],[-395,-925],[-360,-985],[-325,-940],[-285,-968],[-250,-912],[-215,-950],
  [-180,-990],[-150,-925],[-115,-960]
];

// lower middle, below the centre
const lowerMidPoints = [
  [-96,-627],[-80,-668],[-64,-611],[-48,-652],[-31,-689],[-15,-634],[1,-673],[17,-603],[34,-646],[50,-684],
  [66,-619],[83,-661],[99,-697],[115,-638],[132,-607],[148,-676],[164,-649],[181,-625],[197,-690],[213,-657],
  [230,-614],[246,-680],[262,-641],[279,-698],[295,-623],[311,-664],[328,-606],[344,-685],[360,-648],[377,-629],
  [393,-694],[409,-659],[426,-617],[442,-679],[460,-640],
  [-95,-739],[-77,-781],[-58,-716],[-40,-762],[-22,-794],[-4,-727],[14,-770],[32,-708],[50,-751],[68,-789],
  [86,-734],[104,-768],[122,-712],[140,-783],[158,-745],[176,-721],[194,-796],[212,-757],[230,-730],[248,-775],
  [266,-704],[284,-748],[302,-786],[320,-723],[338,-766],[356,-741],[374,-798],[392,-714],[410,-760],[430,-790],
  [-94,-848],[-72,-882],[-50,-819],[-28,-866],[-6,-835],[16,-894],[38,-827],[60,-871],[82,-806],[104,-853],
  [126,-887],[148,-838],[170,-875],[192,-812],[214,-859],[236,-891],[258,-829],[280,-864],[302,-843],[324,-898],
  [346,-817],[368,-856],[395,-835],
  [-90,-935],[-60,-972],[-30,-918],[5,-958],[35,-995],[65,-930],[100,-965],[135,-912],[170,-950],[210,-985],[245,-940]
];

// darker patches inside the four lobes
const densePatchPoints = [
  [112,612],[147,688],[163,842],[188,574],[205,731],[219,653],[231,884],[244,598],[258,807],[263,668],
  [277,629],[286,851],[293,588],[301,694],[314,823],[318,647],[329,571],[338,706],[347,869],[353,615],
  [366,752],[372,668],[384,820],[391,596],[403,711],[415,641],[428,788],[437,563],[446,690],[104,758],
  [128,822],[139,561],[172,631],[196,880],[211,796],[227,566],[239,683],[252,861],[271,587],[282,652],
  [297,816],[306,601],[324,678],[343,836],[358,586],[375,703],[388,862],[409,615],[421,744],[433,876],
  [150,720],[180,775],[120,690],[215,610],[395,655],[245,835],[335,605],[360,800],
  [212,642],[226,702],[238,783],[251,659],[259,722],[268,805],[276,687],[284,744],[292,637],[298,781],
  [307,712],[313,668],[321,795],[327,731],[336,652],[344,764],[352,698],[361,733],[371,786],[380,645],
  [388,718],[396,761],[405,688],[414,739],[233,739],[247,771],[263,645],[289,702],[304,833],[332,683],
  [357,671],[376,754],
  [-872,214],[-845,382],[-821,147],[-803,506],[-786,291],[-763,433],[-748,168],[-729,598],[-712,355],[-694,247],
  [-677,521],[-659,126],[-643,403],[-626,289],[-611,615],[-597,177],[-583,346],[-569,558],[-552,238],[-538,127],
  [-524,391],[-509,532],[-493,279],[-478,162],[-462,444],[-447,331],[-433,580],[-418,209],[-402,487],[-387,143],
  [-371,362],[-356,258],[-340,529],[-325,417],[-309,183],[-294,309],[-279,455],[-263,115],[-248,612],[-232,381],
  [-217,268],[-201,517],[-186,152],[-170,427],[-155,325],[-860,455],[-815,263],[-770,520],[-725,131],[-680,372],
  [-635,206],[-590,294],[-545,583],[-500,192],[-455,271],[-410,619],[-365,451],[-320,212],[-275,538],[-230,164],
  [-185,351],[-890,318],[-840,566],[-795,184],[-750,379],[-705,468],[-660,245],[-615,532],[-570,119],[-525,310],
  [-480,603],[-435,389],[-390,232],[-345,142],[-300,383],[-255,496],[-210,206],[-165,588],
  [-648,398],[-631,462],[-617,351],[-604,507],[-589,422],[-576,371],[-563,533],[-551,395],[-539,486],[-527,352],
  [-515,418],[-502,527],[-490,374],[-478,458],[-464,409],[-452,344],[-440,497],[-427,437],[-618,428],[-571,448],
  [-545,366],[-533,509],[-508,462],[-486,401],[-596,475],[-558,415],
  [-633,-312],[-612,-487],[-594,-268],[-578,-642],[-563,-395],[-547,-533],[-532,-731],[-516,-284],[-500,-446],[-485,-612],
  [-469,-352],[-454,-785],[-438,-509],[-423,-263],[-407,-689],[-392,-421],[-376,-567],[-361,-318],[-345,-752],[-330,-481],
  [-314,-620],[-299,-289],[-283,-402],[-268,-709],[-252,-538],[-237,-341],[-221,-823],[-206,-457],[-190,-593],[-175,-276],
  [-159,-683],[-144,-412],[-128,-766],[-113,-528],[-620,-395],[-575,-521],[-530,-452],[-485,-329],[-440,-591],[-395,-813],
  [-350,-377],[-305,-519],[-260,-647],[-215,-293],[-170,-470],[-125,-639],[-605,-703],[-560,-268],[-515,-809],[-470,-553],
  [-425,-371],[-380,-702],[-335,-261],[-290,-836],[-245,-441],[-200,-719],[-155,-348],[-110,-795],[-655,-577],[-498,-697],
  [-457,-428],[-412,-493],[-367,-631],[-322,-407],[-277,-583],[-232,-505],[-187,-386],[-142,-555],
  [-400,-430],[-385,-470],[-362,-445],[-348,-488],[-420,-462],[-375,-412],[-338,-425],[-410,-500],
  [561,-83],[578,-247],[593,-392],[609,-138],[624,-311],[640,-52],[655,-203],[671,-438],[686,-119],[702,-356],
  [717,-178],[733,-412],[748,-92],[764,-331],[779,-156],[795,-279],[810,-427],[826,-62],[841,-214],[857,-348],
  [872,-133],[888,-403],[903,-287],[919,-171],[934,-379],[585,-182],[630,-423],[675,-326],[720,-59],[765,-210],
  [810,-366],[855,-97],[900,-229],[945,-314],
  [604,-238],[618,-183],[631,-306],[645,-257],[658,-147],[668,-348],[677,-211],[686,-290],[694,-168],[703,-322],
  [712,-193],[721,-361],[730,-224],[739,-151],[748,-305],[757,-268],[766,-187],[776,-339],[787,-232],[798,-287],
  [809,-175],[818,-322],[652,-281],[689,-131],[736,-377],[782,-141],[625,-362],[713,-297]
];

const dotColor = 'rgb(35, 80, 168)';
const textColor = '#262626';
const fontFamily = '"Liberation Sans", Arial, Helvetica, sans-serif';

const allPoints = [
  ...outerPoints, ...tracedPoints, ...upperLeftPoints, ...upperRightPoints,
  ...centrePoints, ...centreCorePoints, ...lowerLeftPoints, ...lowerMidPoints, ...densePatchPoints,
].map(([x, y]) => ({ x, y }));

// MATLAB style box with ticks on the inside
const boxTicks = {
  id: 'boxTicks',
  afterDatasetsDraw(chart) {
    const { ctx, chartArea: a, scales: { x, y } } = chart;
    const len = 6.5;
    ctx.save();
    ctx.strokeStyle = '#7a7a7a';
    ctx.lineWidth = 1.2;
    ctx.strokeRect(a.left, a.top, a.right - a.left, a.bottom - a.top);
    ctx.beginPath();
    xTicks.forEach((v) => {
      const px = x.getPixelForValue(v);
      ctx.moveTo(px, a.bottom); ctx.lineTo(px, a.bottom - len);
      ctx.moveTo(px, a.top); ctx.lineTo(px, a.top + len);
    });
    yTicks.forEach((v) => {
      const py = y.getPixelForValue(v);
      ctx.moveTo(a.left, py); ctx.lineTo(a.left + len, py);
      ctx.moveTo(a.right, py); ctx.lineTo(a.right - len, py);
    });
    ctx.stroke();
    ctx.restore();
  },
};

const scatterChart = document.getElementById('scatter-chart').getContext('2d');
(() => new Chart(scatterChart, {
  type: 'scatter',

  data: {
    datasets: [{
      data: allPoints,
      backgroundColor: dotColor,
      borderWidth: 0,
      pointRadius: 2.75,
      pointHoverRadius: 2.75,
    }],
  },

  options: {
    responsive: true,
    maintainAspectRatio: false,
    animation: false,
    layout: { padding: { top: 0, right: 2, bottom: 0, left: 0 } },
    plugins: {
      legend: { display: false },
      tooltip: { enabled: false },
      title: {
        display: true,
        text: 'Scatter plot',
        color: textColor,
        font: { family: fontFamily, size: 26, weight: 'normal', lineHeight: 1 },
        padding: { top: 1, bottom: 2 },
      },
    },
    scales: {
      x: {
        type: 'linear',
        min: -1445,
        max: 1445,
        afterBuildTicks: (s) => { s.ticks = xTicks.map((v) => ({ value: v })); },
        afterFit: (s) => { s.height = 72; },
        grid: { display: false, drawTicks: false },
        border: { display: false },
        ticks: {
          color: textColor, font: { family: fontFamily, size: 24 }, padding: 13.6,
          maxRotation: 0, autoSkip: false, callback: (v) => String(v),
        },
        title: { display: true, text: 'In-Phase', color: textColor, font: { family: fontFamily, size: 26, lineHeight: 0.8 }, padding: 0 },
      },
      y: {
        type: 'linear',
        min: -1445,
        max: 1445,
        afterBuildTicks: (s) => { s.ticks = yTicks.map((v) => ({ value: v })); },
        afterFit: (s) => { s.width = 107; },
        grid: { display: false, drawTicks: false },
        border: { display: false },
        ticks: {
          color: textColor, font: { family: fontFamily, size: 24 }, padding: 13,
          autoSkip: false, callback: (v) => String(v),
        },
        title: { display: true, text: 'Quadrature', color: textColor, font: { family: fontFamily, size: 26, lineHeight: 0.8 }, padding: { top: 1.6, bottom: 0 } },
      },
    },
  },
  plugins: [boxTicks],
}))();
</script>
</body>
</html>
